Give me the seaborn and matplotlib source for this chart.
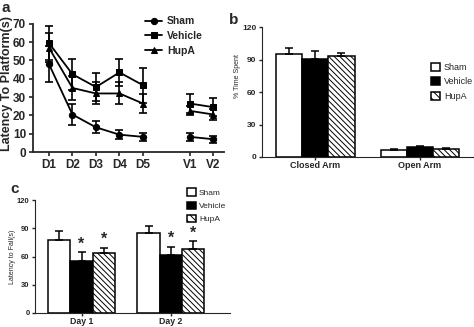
import numpy as np
import pandas as pd
import matplotlib
matplotlib.use("Agg")
import matplotlib.pyplot as plt
import seaborn as sns

sns.set_style("ticks")
plt.rcParams["font.family"] = ["Liberation Sans", "DejaVu Sans"]
plt.rcParams["hatch.linewidth"] = 0.7

groups = ["Sham", "Vehicle", "HupA"]
HATCH = "\\\\\\\\\\\\"

# Panel a: water maze latency
days = ["D1", "D2", "D3", "D4", "D5", "V1", "V2"]
day_pos = [0, 1, 2, 3, 4, 6, 7]
segment = ["train", "train", "train", "train", "train", "visible", "visible"]
sham_lat = [48.0, 20.5, 13.5, 9.5, 8.3, 8.3, 7.0]
sham_lat_err = [10.0, 5.5, 3.3, 2.3, 2.0, 2.2, 2.0]
vehicle_lat = [59.5, 42.5, 35.5, 43.5, 36.5, 26.5, 24.5]
vehicle_lat_err = [9.5, 8.5, 7.5, 7.5, 9.5, 5.2, 5.0]
hupa_lat = [57.0, 35.0, 32.0, 32.0, 26.5, 22.5, 20.5]
hupa_lat_err = [8.0, 6.5, 6.0, 6.0, 5.0, 2.5, 3.0]

# Panel b: elevated plus maze
arms = ["Closed Arm", "Open Arm"]
sham_time = [95.0, 6.5]
sham_time_err = [6.0, 1.0]
vehicle_time = [91.0, 9.0]
vehicle_time_err = [6.5, 1.5]
hupa_time = [93.0, 7.0]
hupa_time_err = [3.5, 1.5]

# Panel c: rotarod
test_days = ["Day 1", "Day 2"]
sham_fall = [78.0, 85.0]
sham_fall_err = [9.0, 7.5]
vehicle_fall = [55.0, 61.5]
vehicle_fall_err = [10.0, 9.0]
hupa_fall = [63.5, 68.5]
hupa_fall_err = [6.0, 7.5]
significant = {"Sham": [False, False], "Vehicle": [True, True], "HupA": [True, True]}

fig = plt.figure(figsize=(4.74, 3.27), dpi=100)

# ---------------- Panel a ----------------
ax_a = fig.add_axes([0.0696, 0.535, 0.403, 0.392])
lat_vals = {"Sham": (sham_lat, sham_lat_err),
            "Vehicle": (vehicle_lat, vehicle_lat_err),
            "HupA": (hupa_lat, hupa_lat_err)}
rows = []
for g in groups:
    vals, errs = lat_vals[g]
    for p, s, v, e in zip(day_pos, segment, vals, errs):
        rows.append({"pos": p, "segment": s, "group": g, "latency": v, "err": e})
df_a = pd.DataFrame(rows)

sns.lineplot(data=df_a, x="pos", y="latency", hue="group", style="group",
             units="segment", estimator=None, hue_order=groups, style_order=groups,
             palette={g: "black" for g in groups},
             markers={"Sham": "o", "Vehicle": "s", "HupA": "^"}, dashes=False,
             markersize=4.5, markeredgecolor="black", linewidth=1.3, ax=ax_a)
for g in groups:
    sub = df_a[df_a["group"] == g]
    ax_a.errorbar(sub["pos"], sub["latency"], yerr=sub["err"], fmt="none",
                  ecolor="black", elinewidth=1.2, capsize=3, capthick=1.2)

ax_a.set_xlim(-0.68, 7.45)
ax_a.set_ylim(0, 70)
ax_a.set_yticks(range(0, 71, 10))
ax_a.set_xticks(day_pos)
ax_a.set_xticklabels(days)
ax_a.set_xlabel("")
ax_a.set_ylabel("Latency To Platform(s)", fontsize=9, fontweight="bold")
ax_a.yaxis.set_label_coords(-0.105, 0.535)
ax_a.tick_params(labelsize=8.5, width=1.2, length=3, pad=2)
for lab in ax_a.get_xticklabels() + ax_a.get_yticklabels():
    lab.set_fontweight("bold")
for sp in ("left", "bottom"):
    ax_a.spines[sp].set_linewidth(1.3)
sns.despine(ax=ax_a)
ax_a.legend(loc="upper left", bbox_to_anchor=(0.56, 1.1), frameon=False,
            prop={"size": 7.5, "weight": "bold"}, handlelength=1.6,
            handletextpad=0.5, labelspacing=0.45, borderpad=0)
fig.text(0.004, 0.997, "a", fontsize=11, fontweight="bold", va="top")


def grouped_bars(ax, cats, vals_by_group, errs_by_group):
    rows = []
    for g in groups:
        for c, v in zip(cats, vals_by_group[g]):
            rows.append({"cat": c, "group": g, "value": v})
    df = pd.DataFrame(rows)
    sns.barplot(data=df, x="cat", y="value", hue="group", order=cats,
                hue_order=groups, errorbar=None, width=0.75,
                palette={"Sham": "white", "Vehicle": "black", "HupA": "white"},
                edgecolor="black", linewidth=1.1, saturation=1, ax=ax)
    for g, cont in zip(groups, ax.containers):
        for bar, v, e in zip(cont, vals_by_group[g], errs_by_group[g]):
            if g == "HupA":
                bar.set_hatch(HATCH)
            xc = bar.get_x() + bar.get_width() / 2
            ax.errorbar([xc], [v], yerr=[[0], [e]], fmt="none", ecolor="black",
                        elinewidth=1.1, capsize=2.8, capthick=1.1)
    handles, labels = ax.get_legend_handles_labels()
    ax.legend_.remove()
    return handles, labels


def bar_legend(ax, handles, labels, anchor, size, spacing):
    leg = ax.legend(handles, labels, loc="upper left", bbox_to_anchor=anchor,
                    frameon=False, fontsize=size, handlelength=1.0, handleheight=1.0,
                    handletextpad=0.4, labelspacing=spacing, borderpad=0)
    for h, lab in zip(leg.legend_handles, labels):
        h.set_edgecolor("black")
        h.set_linewidth(1.1)
        if lab == "HupA":
            h.set_hatch("\\\\\\\\")
    return leg


def style_bar_axes(ax, tick_size, label_size):
    ax.set_ylim(0, 120)
    ax.set_yticks([0, 30, 60, 90, 120])
    ax.set_xlabel("")
    ax.tick_params(axis="y", labelsize=tick_size, width=1, length=2.5, pad=1.5)
    ax.tick_params(axis="x", labelsize=label_size, width=1, length=2, pad=1)
    for lab in ax.get_xticklabels() + ax.get_yticklabels():
        lab.set_fontweight("bold")
    sns.despine(ax=ax)


# ---------------- Panel b ----------------
ax_b = fig.add_axes([0.553, 0.520, 0.445, 0.397])
h_b, l_b = grouped_bars(ax_b, arms,
                        {"Sham": sham_time, "Vehicle": vehicle_time, "HupA": hupa_time},
                        {"Sham": sham_time_err, "Vehicle": vehicle_time_err, "HupA": hupa_time_err})
ax_b.set_xlim(-0.51, 1.51)
style_bar_axes(ax_b, 6, 6.5)
ax_b.set_ylabel("% Time Spent", fontsize=5)
ax_b.yaxis.set_label_coords(-0.1, 0.62)
bar_legend(ax_b, h_b, l_b, (0.78, 0.76), 6.5, 0.6)
fig.text(0.483, 0.96, "b", fontsize=11, fontweight="bold", va="top")

# ---------------- Panel c ----------------
ax_c = fig.add_axes([0.074, 0.043, 0.411, 0.345])
fall_vals = {"Sham": sham_fall, "Vehicle": vehicle_fall, "HupA": hupa_fall}
fall_errs = {"Sham": sham_fall_err, "Vehicle": vehicle_fall_err, "HupA": hupa_fall_err}
h_c, l_c = grouped_bars(ax_c, test_days, fall_vals, fall_errs)
for g, cont in zip(groups, ax_c.containers):
    for bar, v, e, s in zip(cont, fall_vals[g], fall_errs[g], significant[g]):
        if s:
            ax_c.text(bar.get_x() + bar.get_width() / 2, v + e + 0.5, "*",
                      ha="center", va="bottom", fontsize=11.5, fontweight="bold")
ax_c.set_xlim(-0.52, 1.66)
style_bar_axes(ax_c, 5.5, 6.3)
ax_c.set_ylabel("Latency to Fall(s)", fontsize=5)
ax_c.yaxis.set_label_coords(-0.10, 0.5)
bar_legend(ax_c, h_c, l_c, (0.76, 1.14), 6, 0.55)
fig.text(0.021, 0.442, "c", fontsize=11, fontweight="bold", va="top")

fig.savefig("out.png", dpi=100)
